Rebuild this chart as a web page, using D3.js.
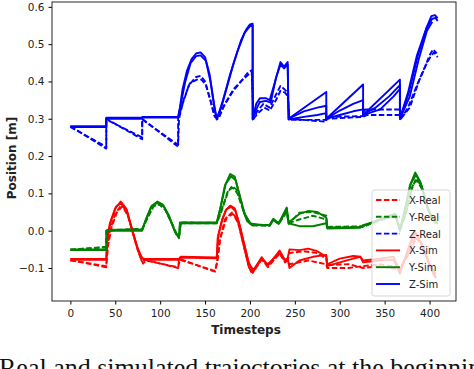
<!DOCTYPE html>
<html>
<head>
<meta charset="utf-8">
<script src="https://cdn.jsdelivr.net/npm/d3@7"></script>
<style>
  body { margin: 0; background: #fff; }
  svg { display: block; }
  .tick text { font-family: "DejaVu Sans", sans-serif; font-size: 10.5px; fill: #222; }
  .domain { stroke: #111; }
</style>
</head>
<body>
<div id="chart"></div>
<script>
// timestep ticks / position ticks
const xTicks = [0, 50, 100, 150, 200, 250, 300, 350, 400];
const yTicks = [-0.1, 0.0, 0.1, 0.2, 0.3, 0.4, 0.5, 0.6];

// Z trajectories [timestep, position]
const zSimA = [[0,0.28],[40,0.28],[40,0.303],[80,0.303],[80,0.305],[120,0.305],[122,0.33],[125,0.38],[130,0.43],[135,0.46],[140,0.475],[145,0.478],[150,0.465],[155,0.42],[160,0.34],[163,0.30],[168,0.33],[175,0.39],[182,0.45],[190,0.51],[196,0.54],[200,0.553],[203,0.555],[203,0.30],[207,0.34],[211,0.355],[218,0.355],[222,0.35],[228,0.40],[234,0.452],[238,0.44],[242,0.452],[243,0.30],[285,0.372],[285,0.30],[326,0.392],[326,0.31],[367,0.405],[367,0.30],[376,0.37],[386,0.47],[396,0.54],[402,0.575],[406,0.578],[409,0.57]];
const zSimB = [[0,0.278],[40,0.278],[40,0.30],[80,0.30],[80,0.303],[120,0.303],[123,0.34],[128,0.40],[134,0.45],[140,0.468],[145,0.47],[151,0.455],[156,0.40],[161,0.32],[163,0.298],[170,0.35],[178,0.42],[186,0.48],[194,0.53],[200,0.548],[203,0.55],[203,0.298],[207,0.325],[211,0.345],[218,0.348],[223,0.343],[229,0.41],[234,0.445],[238,0.435],[242,0.445],[243,0.298],[260,0.305],[275,0.31],[285,0.315],[285,0.30],[300,0.322],[315,0.34],[326,0.35],[326,0.312],[340,0.33],[355,0.36],[367,0.39],[367,0.30],[377,0.37],[387,0.47],[397,0.545],[403,0.568],[407,0.57],[409,0.562]];
const zSimC = [[243,0.30],[260,0.32],[275,0.33],[285,0.335],[285,0.30],[300,0.31],[315,0.32],[326,0.325],[326,0.31],[345,0.325],[360,0.36],[367,0.38],[367,0.30],[378,0.36],[388,0.46],[397,0.535],[403,0.56]];
const zRealA = [[0,0.28],[40,0.22],[40,0.30],[80,0.245],[80,0.30],[120,0.225],[120,0.30],[125,0.34],[132,0.39],[140,0.412],[145,0.415],[150,0.40],[156,0.35],[160,0.31],[164,0.30],[170,0.33],[180,0.37],[190,0.40],[198,0.425],[202,0.43],[204,0.30],[208,0.32],[215,0.34],[222,0.33],[228,0.36],[234,0.388],[238,0.38],[242,0.37],[244,0.30],[285,0.292],[285,0.30],[326,0.305],[330,0.31],[367,0.31],[368,0.30],[376,0.33],[386,0.39],[395,0.44],[400,0.47],[404,0.486],[408,0.475]];
const zRealB = [[0,0.278],[40,0.225],[40,0.298],[80,0.25],[80,0.298],[120,0.23],[121,0.30],[126,0.35],[133,0.395],[141,0.405],[146,0.405],[151,0.39],[157,0.34],[161,0.305],[165,0.30],[172,0.34],[182,0.38],[192,0.405],[199,0.42],[202,0.425],[204,0.30],[209,0.315],[216,0.33],[222,0.322],[229,0.35],[234,0.375],[239,0.37],[242,0.36],[244,0.297],[285,0.297],[286,0.305],[326,0.307],[328,0.325],[367,0.325],[368,0.30],[378,0.33],[388,0.40],[397,0.45],[402,0.47],[405,0.478],[409,0.465]];

// Y trajectories
const ySimA = [[0,-0.052],[40,-0.052],[40,0.0],[80,0.0],[84,0.03],[90,0.065],[97,0.078],[103,0.07],[110,0.04],[116,0.0],[121,-0.02],[122,0.022],[163,0.022],[167,0.06],[172,0.12],[178,0.152],[183,0.145],[188,0.10],[193,0.05],[200,0.02],[210,0.015],[222,0.016],[226,0.032],[232,0.02],[241,0.062],[243,0.022],[255,0.045],[265,0.053],[275,0.05],[285,0.035],[286,0.008],[300,0.008],[323,0.01],[326,0.015],[340,0.025],[355,0.04],[362,0.045],[367,0.0],[372,0.05],[378,0.12],[384,0.156],[390,0.13],[397,0.07],[403,0.03],[409,0.02]];
const ySimB = [[0,-0.05],[40,-0.05],[41,0.002],[80,0.003],[85,0.035],[91,0.068],[98,0.075],[104,0.065],[111,0.03],[117,-0.005],[121,-0.017],[123,0.02],[163,0.02],[168,0.07],[173,0.125],[179,0.146],[184,0.135],[189,0.09],[194,0.045],[201,0.018],[222,0.014],[226,0.03],[232,0.018],[241,0.058],[243,0.02],[255,0.012],[270,0.012],[285,0.02],[286,0.006],[323,0.008],[326,0.013],[345,0.03],[362,0.04],[367,0.002],[373,0.06],[379,0.125],[385,0.15],[391,0.12],[398,0.06],[404,0.028],[409,0.018]];
const yRealA = [[0,-0.05],[20,-0.048],[40,-0.043],[40,0.0],[80,0.005],[85,0.03],[92,0.065],[98,0.072],[105,0.06],[112,0.025],[118,-0.01],[121,-0.018],[122,0.02],[163,0.02],[168,0.05],[175,0.10],[180,0.12],[185,0.11],[190,0.08],[196,0.03],[202,0.015],[222,0.015],[226,0.03],[232,0.02],[241,0.055],[243,0.02],[255,0.03],[270,0.04],[285,0.03],[286,0.01],[326,0.012],[345,0.03],[362,0.045],[367,0.002],[373,0.04],[380,0.11],[385,0.14],[391,0.12],[398,0.06],[405,0.025],[409,0.02]];
const yRealB = [[0,-0.052],[20,-0.047],[40,-0.045],[41,0.002],[80,0.004],[86,0.035],[93,0.066],[99,0.07],[106,0.055],[113,0.02],[119,-0.012],[121,-0.016],[123,0.022],[163,0.021],[169,0.06],[176,0.11],[181,0.115],[186,0.10],[191,0.065],[197,0.025],[203,0.014],[222,0.013],[226,0.028],[232,0.018],[241,0.05],[243,0.018],[255,0.048],[270,0.05],[285,0.04],[286,0.009],[326,0.01],[345,0.028],[362,0.04],[367,0.004],[374,0.05],[381,0.12],[386,0.135],[392,0.11],[399,0.05],[406,0.022],[409,0.02]];

// X trajectories
const xSimA = [[0,-0.078],[40,-0.078],[41,-0.02],[44,0.02],[50,0.06],[56,0.078],[62,0.06],[68,0.01],[74,-0.04],[79,-0.07],[82,-0.078],[120,-0.078],[122,-0.072],[163,-0.074],[164,-0.02],[168,0.02],[173,0.055],[178,0.067],[183,0.06],[188,0.02],[193,-0.03],[198,-0.08],[203,-0.11],[213,-0.071],[220,-0.094],[233,-0.053],[239,-0.08],[242,-0.073],[244,-0.05],[255,-0.052],[265,-0.048],[275,-0.055],[285,-0.07],[286,-0.095],[300,-0.085],[315,-0.075],[323,-0.07],[326,-0.08],[345,-0.075],[360,-0.07],[367,-0.11],[375,-0.06],[383,0.0],[390,-0.03],[398,-0.08],[405,-0.12]];
const xSimB = [[0,-0.076],[40,-0.076],[41,-0.025],[45,0.025],[51,0.065],[57,0.075],[63,0.055],[69,0.0],[75,-0.05],[80,-0.074],[83,-0.076],[121,-0.076],[123,-0.07],[163,-0.072],[165,-0.01],[169,0.03],[174,0.058],[179,0.064],[184,0.052],[189,0.01],[194,-0.04],[199,-0.09],[204,-0.105],[213,-0.075],[220,-0.09],[233,-0.058],[239,-0.078],[242,-0.075],[244,-0.10],[255,-0.08],[270,-0.07],[285,-0.065],[286,-0.09],[300,-0.075],[315,-0.068],[323,-0.07],[326,-0.085],[345,-0.08],[360,-0.078],[367,-0.115],[376,-0.05],[384,-0.005],[391,-0.035],[399,-0.085],[406,-0.125]];
const xRealA = [[0,-0.078],[40,-0.098],[41,-0.05],[44,0.0],[50,0.045],[57,0.07],[63,0.05],[69,0.0],[75,-0.05],[80,-0.085],[83,-0.078],[120,-0.10],[121,-0.075],[161,-0.11],[163,-0.09],[166,-0.03],[172,0.03],[180,0.049],[186,0.03],[192,-0.03],[198,-0.09],[202,-0.116],[213,-0.075],[220,-0.098],[233,-0.06],[239,-0.085],[242,-0.08],[244,-0.09],[265,-0.08],[285,-0.09],[286,-0.10],[310,-0.10],[326,-0.095],[345,-0.09],[367,-0.10],[375,-0.07],[385,-0.02],[392,-0.04],[400,-0.09],[408,-0.13]];
const xRealB = [[0,-0.08],[40,-0.095],[42,-0.04],[46,0.01],[52,0.05],[58,0.065],[64,0.04],[70,-0.01],[76,-0.06],[81,-0.088],[84,-0.08],[120,-0.098],[122,-0.078],[161,-0.108],[164,-0.08],[167,-0.02],[174,0.035],[181,0.045],[187,0.02],[193,-0.04],[199,-0.1],[203,-0.113],[213,-0.078],[220,-0.095],[233,-0.062],[239,-0.082],[242,-0.078],[244,-0.06],[260,-0.055],[275,-0.06],[285,-0.075],[286,-0.092],[310,-0.09],[326,-0.10],[345,-0.095],[367,-0.105],[376,-0.06],[386,-0.01],[393,-0.045],[401,-0.095],[408,-0.12]];

const legendNames = ['X-Real', 'Y-Real', 'Z-Real', 'X-Sim', 'Y-Sim', 'Z-Sim'];

const RED = '#ff0000', GREEN = '#008000', BLUE = '#0000ff';

const W = 474, H = 369;
const svg = d3.select('#chart').append('svg').attr('width', W).attr('height', H);

const x = d3.scaleLinear().domain([-20.45, 429.45]).range([52, 456]);
const y = d3.scaleLinear().domain([-0.1885, 0.613]).range([301, 2]);

const line = d3.line().x(d => x(d[0])).y(d => y(d[1]));

svg.append('defs').append('clipPath').attr('id', 'clip')
  .append('rect').attr('x', 52).attr('y', 2).attr('width', 404).attr('height', 299);

const plot = svg.append('g').attr('clip-path', 'url(#clip)');

const series = [
  { runs: [xRealA, xRealB], color: RED, dash: '5.5,2.4' },
  { runs: [yRealA, yRealB], color: GREEN, dash: '5.5,2.4' },
  { runs: [zRealA, zRealB], color: BLUE, dash: '5.5,2.4' },
  { runs: [xSimA, xSimB], color: RED, dash: null },
  { runs: [ySimA, ySimB], color: GREEN, dash: null },
  { runs: [zSimA, zSimB, zSimC], color: BLUE, dash: null }
];

series.forEach(s => {
  s.runs.forEach(r => {
    plot.append('path')
      .attr('d', line(r))
      .attr('fill', 'none')
      .attr('stroke', s.color)
      .attr('stroke-width', 1.9)
      .attr('stroke-linejoin', 'round')
      .attr('stroke-dasharray', s.dash);
  });
});

// axes
const xAxis = d3.axisBottom(x).tickValues(xTicks).tickSize(3.5).tickPadding(5).tickFormat(d3.format('d'));
const yAxis = d3.axisLeft(y).tickValues(yTicks).tickSize(3.5).tickPadding(4).tickFormat(d3.format('.1f'));

svg.append('g').attr('transform', 'translate(0,301)').call(xAxis);
svg.append('g').attr('transform', 'translate(52,0)').call(yAxis);
svg.selectAll('.domain').remove();

// frame
svg.append('rect').attr('x', 52).attr('y', 2).attr('width', 404).attr('height', 299)
  .attr('fill', 'none').attr('stroke', '#111').attr('stroke-width', 0.9);

// axis labels
svg.append('text').attr('x', 246).attr('y', 334).attr('text-anchor', 'middle')
  .style('font-family', '"DejaVu Sans", sans-serif').style('font-size', '12px').style('font-weight', 'bold')
  .attr('fill', '#222').text('Timesteps');
svg.append('text').attr('transform', 'translate(16,158) rotate(-90)').attr('text-anchor', 'middle')
  .style('font-family', '"DejaVu Sans", sans-serif').style('font-size', '12px').style('font-weight', 'bold')
  .attr('fill', '#222').text('Position [m]');

// legend
const lg = svg.append('g').attr('transform', 'translate(372,190)');
lg.append('rect').attr('width', 78).attr('height', 106).attr('rx', 2.5)
  .attr('fill', '#fff').attr('fill-opacity', 0.8).attr('stroke', '#ccc').attr('stroke-width', 0.8);
legendNames.forEach((name, i) => {
  const s = series[i];
  const yy = 10 + i * 16.8;
  lg.append('line').attr('x1', 4).attr('x2', 28).attr('y1', yy).attr('y2', yy)
    .attr('stroke', s.color).attr('stroke-width', 1.9).attr('stroke-dasharray', s.dash);
  lg.append('text').attr('x', 37).attr('y', yy + 4)
    .style('font-family', '"DejaVu Sans", sans-serif').style('font-size', '10px')
    .attr('fill', '#222').text(name);
});

// caption (cropped at bottom, as in the source figure)
svg.append('text').attr('x', -1).attr('y', 376)
  .style('font-family', '"Liberation Serif", serif').style('font-size', '26px')
  .attr('fill', '#111').text('Real and simulated trajectories at the beginning');
</script>
</body>
</html>
